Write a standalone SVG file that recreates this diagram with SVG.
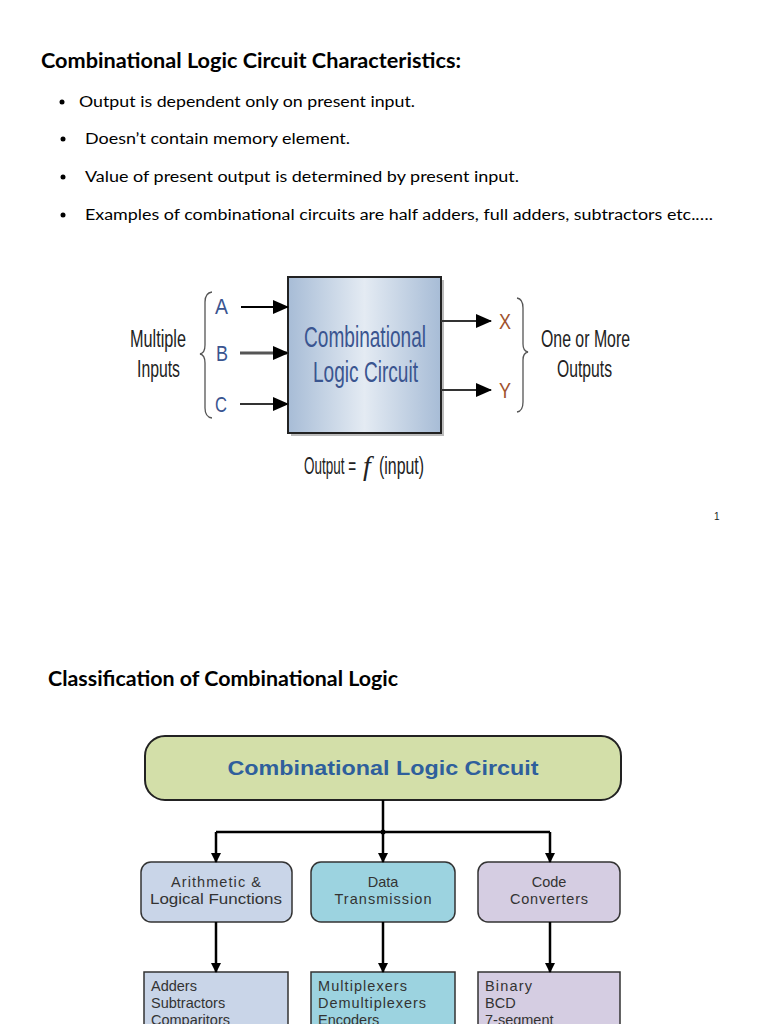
<svg xmlns="http://www.w3.org/2000/svg" width="768" height="1024" viewBox="0 0 768 1024">
<style>
.h{font-family:Lato,"Open Sans",sans-serif;font-weight:bold;font-size:20px;fill:#000}
.b{font-family:Lato,"Open Sans",sans-serif;font-size:15.5px;fill:#000}
.n{font-family:"Liberation Sans",Arial,sans-serif;fill:#222}
.blue{fill:#3a5590}
.red{fill:#a0522d}
.c{font-family:"Liberation Sans",Arial,sans-serif;font-size:14.5px;fill:#333}
.ln{stroke:#000;stroke-width:2.5;fill:none}
.br{stroke:#555;stroke-width:1.3;fill:none}
.bx{stroke:#333;stroke-width:1.5}
</style>
<defs>
<linearGradient id="g" x1="0" y1="0" x2="1" y2="0">
<stop offset="0" stop-color="#a7bcd6"/>
<stop offset="0.5" stop-color="#e4ebf3"/>
<stop offset="1" stop-color="#a7bcd6"/>
</linearGradient>
<marker id="ah" markerWidth="10" markerHeight="10" refX="9" refY="5" orient="auto" markerUnits="userSpaceOnUse" viewBox="0 0 10 10">
<path d="M0,0 L10,5 L0,10 z" fill="#000"/>
</marker>
<marker id="ah2" markerWidth="16" markerHeight="14" refX="15" refY="7" orient="auto" markerUnits="userSpaceOnUse" viewBox="0 0 16 14">
<path d="M0,0 L16,7 L0,14 z" fill="#000"/>
</marker>
</defs>
<rect width="768" height="1024" fill="#fff"/>

<g id="text-top">
<text class="h" x="41" y="68" textLength="420" lengthAdjust="spacingAndGlyphs">Combinational Logic Circuit Characteristics:</text>
<circle cx="62" cy="102" r="2.5"/>
<circle cx="63" cy="139" r="2.5"/>
<circle cx="63" cy="177" r="2.5"/>
<circle cx="63" cy="215" r="2.5"/>
<text class="b" x="79" y="107" textLength="336" lengthAdjust="spacingAndGlyphs">Output is dependent only on present input.</text>
<text class="b" x="85" y="144" textLength="265" lengthAdjust="spacingAndGlyphs">Doesn’t contain memory element.</text>
<text class="b" x="85" y="182" textLength="434" lengthAdjust="spacingAndGlyphs">Value of present output is determined by present input.</text>
<text class="b" x="85" y="220" textLength="628" lengthAdjust="spacingAndGlyphs">Examples of combinational circuits are half adders, full adders, subtractors etc.….</text>
</g>

<g id="block">
<rect x="291" y="280" width="153" height="156" fill="#bbb"/>
<rect x="288" y="277" width="153" height="156" fill="url(#g)" stroke="#222" stroke-width="2"/>
<text class="n blue" x="304" y="347" font-size="30" textLength="122" lengthAdjust="spacingAndGlyphs">Combinational</text>
<text class="n blue" x="313" y="382" font-size="30" textLength="105" lengthAdjust="spacingAndGlyphs">Logic Circuit</text>
</g>

<g id="inputs">
<text class="n" x="130" y="347" font-size="23" textLength="56" lengthAdjust="spacingAndGlyphs">Multiple</text>
<text class="n" x="137" y="377" font-size="23" textLength="43" lengthAdjust="spacingAndGlyphs">Inputs</text>
<path class="br" d="M212,292 Q205,293 205,302 L205,345 Q205,353 200,354 Q205,355 205,363 L205,408 Q205,417 212,418"/>
<text class="n blue" x="215" y="314" font-size="22" textLength="13" lengthAdjust="spacingAndGlyphs">A</text>
<text class="n blue" x="216" y="361" font-size="22" textLength="12" lengthAdjust="spacingAndGlyphs">B</text>
<text class="n blue" x="215" y="412" font-size="22" textLength="12" lengthAdjust="spacingAndGlyphs">C</text>
</g>

<g id="outputs">
<text class="n red" x="499" y="329" font-size="22" textLength="12" lengthAdjust="spacingAndGlyphs">X</text>
<text class="n red" x="499" y="398" font-size="22" textLength="12" lengthAdjust="spacingAndGlyphs">Y</text>
<path class="br" d="M517,298 Q523,299 523,308 L523,344 Q523,351 528,352 Q523,353 523,360 L523,402 Q523,411 517,412"/>
<text class="n" x="541" y="347" font-size="23" textLength="89" lengthAdjust="spacingAndGlyphs">One or More</text>
<text class="n" x="557" y="377" font-size="23" textLength="55" lengthAdjust="spacingAndGlyphs">Outputs</text>
</g>

<g id="formula">
<text class="n" x="304" y="474" font-size="23" textLength="52" lengthAdjust="spacingAndGlyphs">Output =</text>
<text x="363" y="475" font-family="'Liberation Serif',serif" font-style="italic" font-size="28" fill="#222">f</text>
<text class="n" x="379" y="474" font-size="23" textLength="45" lengthAdjust="spacingAndGlyphs">(input)</text>
</g>

<g id="connectors-block">
<path d="M241,307 H288" stroke="#000" stroke-width="2" marker-end="url(#ah2)" fill="none"/>
<path d="M240,353 H288" stroke="#555" stroke-width="3" marker-end="url(#ah2)" fill="none"/>
<path d="M240,404 H288" stroke="#333" stroke-width="2" marker-end="url(#ah2)" fill="none"/>
<path d="M441,321 H491" stroke="#333" stroke-width="2" marker-end="url(#ah2)" fill="none"/>
<path d="M441,390 H491" stroke="#333" stroke-width="2" marker-end="url(#ah2)" fill="none"/>
</g>

<text id="page-num" x="714" y="520" font-family="'Liberation Sans',sans-serif" font-size="10" fill="#222">1</text>

<text id="title2" class="h" x="48" y="686" textLength="350" lengthAdjust="spacingAndGlyphs">Classification of Combinational Logic</text>

<g id="root">
<rect x="145" y="736" width="476" height="64" rx="20" fill="#d3dfa9" stroke="#222" stroke-width="2"/>
<text x="383" y="775" text-anchor="middle" font-family="'Liberation Sans',Arial,sans-serif" font-size="21" font-weight="bold" fill="#2f5f9c" textLength="311" lengthAdjust="spacingAndGlyphs">Combinational Logic Circuit</text>
</g>

<g id="cat1">
<rect x="141" y="862" width="151" height="60" rx="10" fill="#c9d5e8" class="bx"/>
<text class="c" x="216" y="887" text-anchor="middle" textLength="90" lengthAdjust="spacing">Arithmetic &amp;</text>
<text class="c" x="216" y="904" text-anchor="middle" textLength="132" lengthAdjust="spacingAndGlyphs">Logical Functions</text>
</g>
<g id="cat2">
<rect x="311" y="862" width="144" height="60" rx="10" fill="#9cd3e0" class="bx"/>
<text class="c" x="383" y="887" text-anchor="middle">Data</text>
<text class="c" x="383" y="904" text-anchor="middle" textLength="97" lengthAdjust="spacing">Transmission</text>
</g>
<g id="cat3">
<rect x="478" y="862" width="142" height="60" rx="10" fill="#d5cde2" class="bx"/>
<text class="c" x="549" y="887" text-anchor="middle">Code</text>
<text class="c" x="549" y="904" text-anchor="middle" textLength="78" lengthAdjust="spacing">Converters</text>
</g>

<g id="list1">
<rect x="144" y="972" width="144" height="60" fill="#c9d5e8" class="bx"/>
<text class="c" x="151" y="991">Adders</text>
<text class="c" x="151" y="1008">Subtractors</text>
<text class="c" x="151" y="1025">Comparitors</text>
</g>
<g id="list2">
<rect x="311" y="972" width="144" height="60" fill="#9cd3e0" class="bx"/>
<text class="c" x="318" y="991" textLength="89" lengthAdjust="spacing">Multiplexers</text>
<text class="c" x="318" y="1008" textLength="108" lengthAdjust="spacing">Demultiplexers</text>
<text class="c" x="318" y="1025">Encoders</text>
</g>
<g id="list3">
<rect x="478" y="972" width="142" height="60" fill="#d5cde2" class="bx"/>
<text class="c" x="485" y="991" textLength="47" lengthAdjust="spacing">Binary</text>
<text class="c" x="485" y="1008">BCD</text>
<text class="c" x="485" y="1025">7-segment</text>
</g>

<g id="connectors-chart">
<path d="M383,800 V832 M216,832 H550" class="ln"/>
<circle cx="383" cy="832" r="2.5" fill="#000"/>
<path d="M216,832 V862" class="ln" marker-end="url(#ah)"/>
<path d="M383,832 V862" class="ln" marker-end="url(#ah)"/>
<path d="M550,832 V862" class="ln" marker-end="url(#ah)"/>
<path d="M216,922 V972" class="ln" marker-end="url(#ah)"/>
<path d="M383,922 V972" class="ln" marker-end="url(#ah)"/>
<path d="M550,922 V972" class="ln" marker-end="url(#ah)"/>
</g>
</svg>
